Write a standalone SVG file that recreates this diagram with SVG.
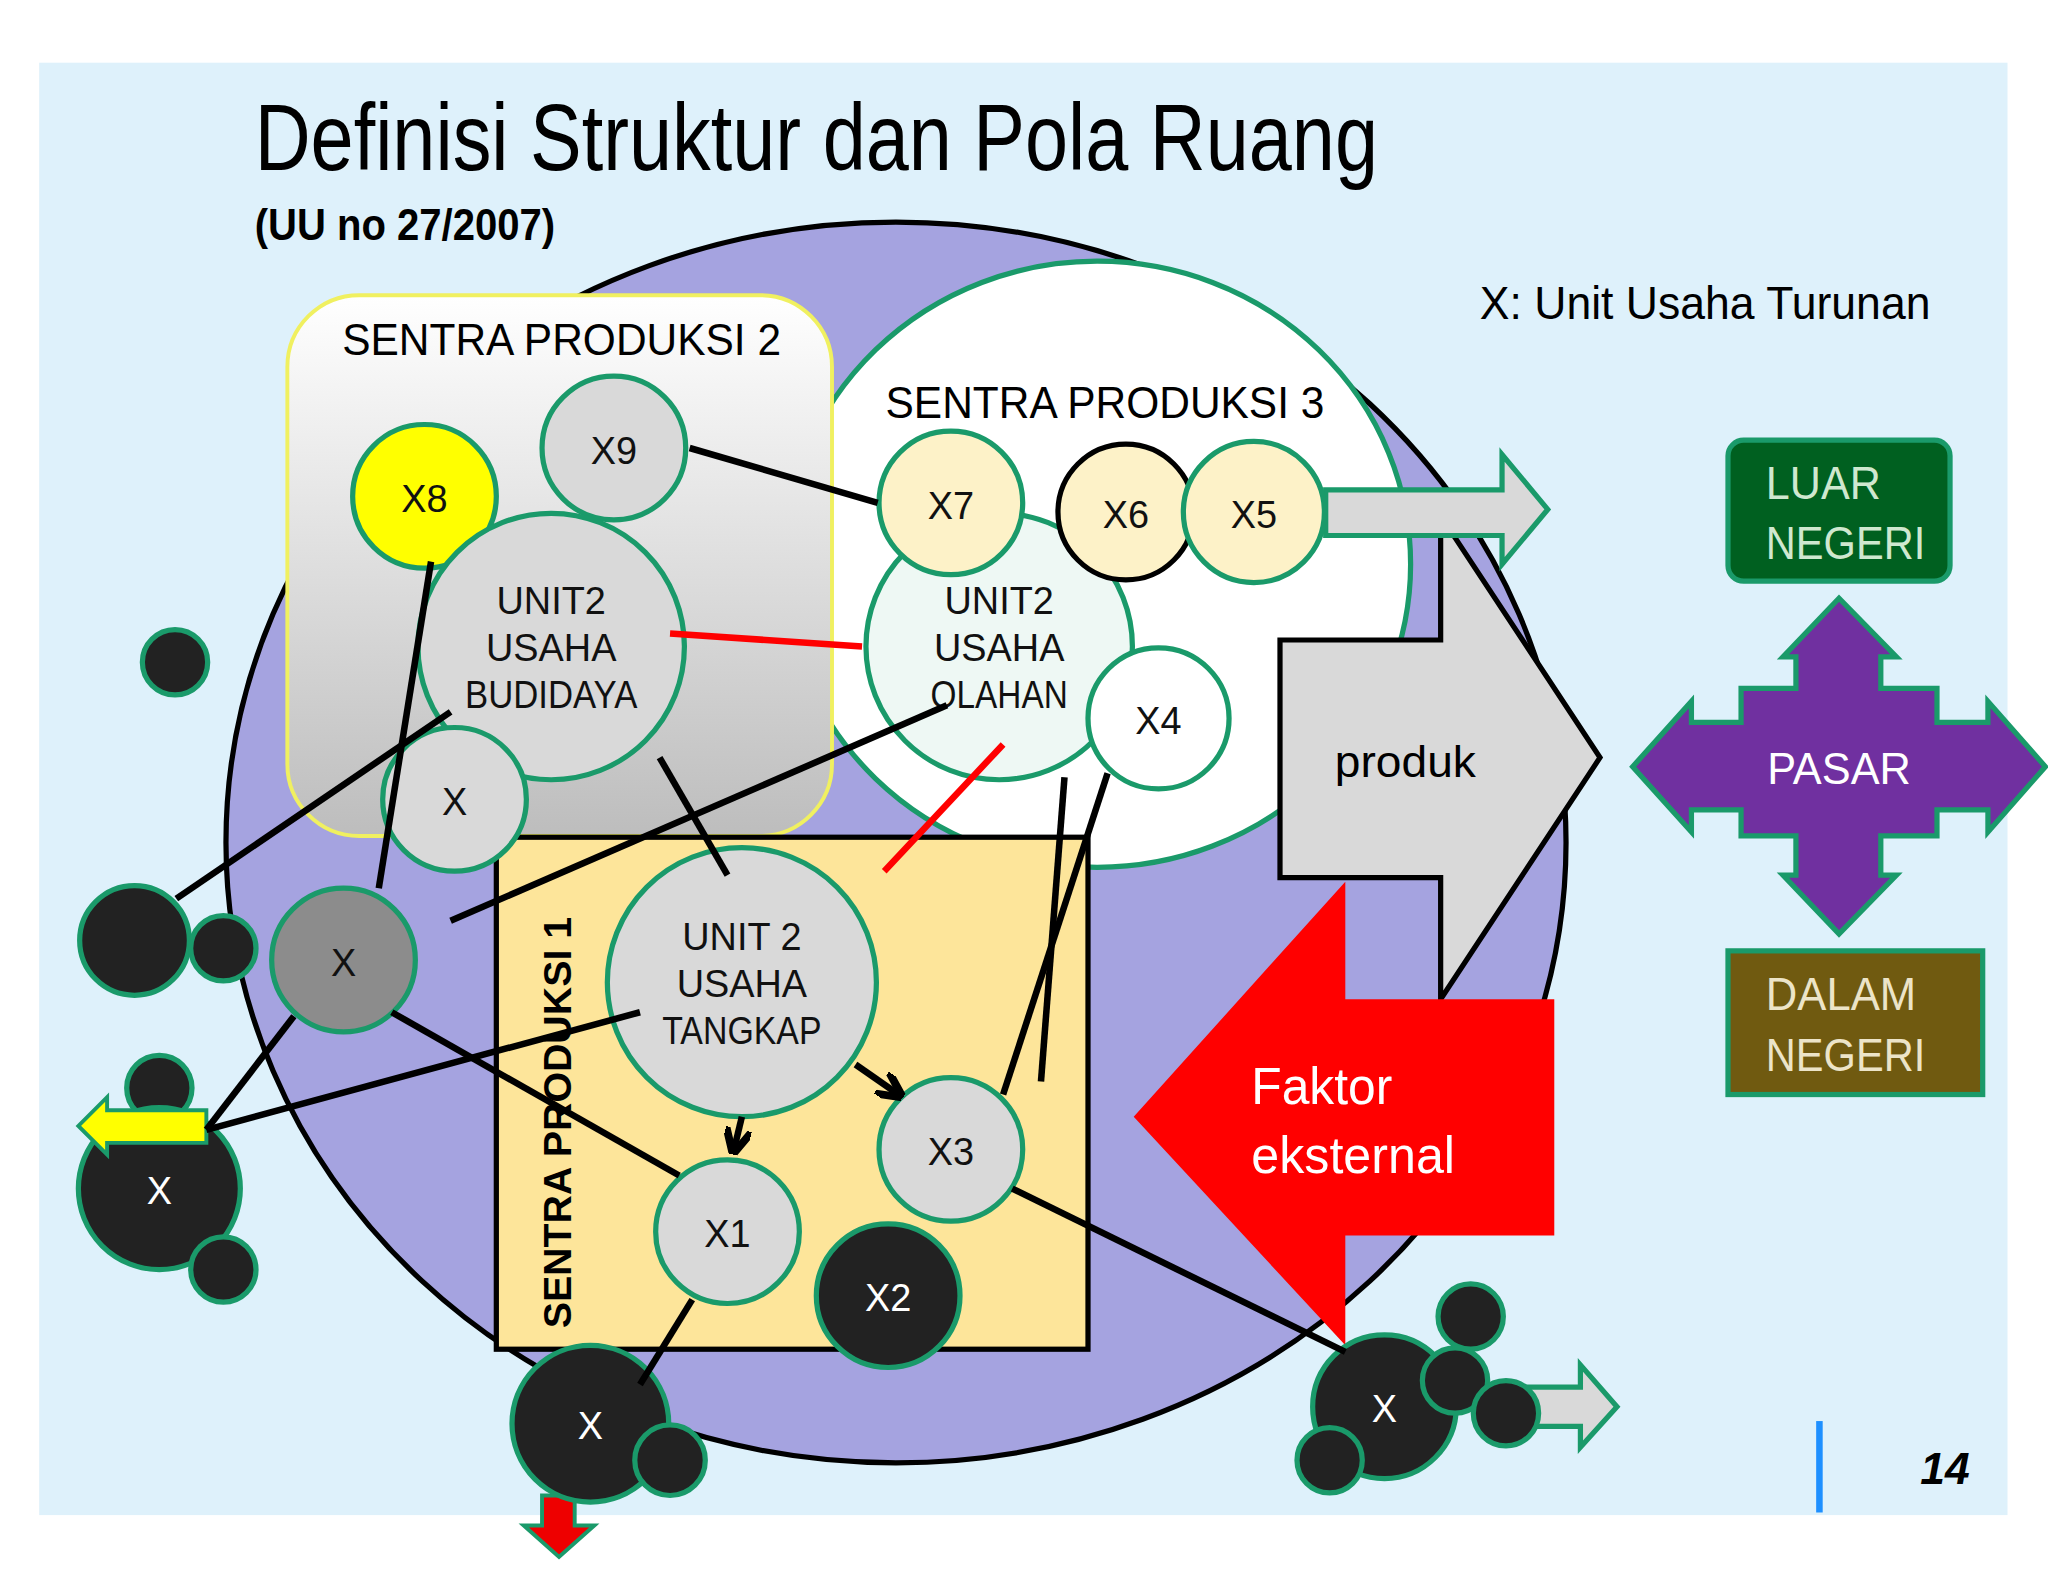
<svg xmlns="http://www.w3.org/2000/svg" width="2048" height="1582" viewBox="0 0 2048 1582">
<defs>
<style>
.t{font-family:"Liberation Sans",Arial,sans-serif}
.n{fill:#d9d9d9;stroke:#1a9a6a;stroke-width:4}
.d{fill:#222;stroke:#1a9a6a;stroke-width:4}
.l{stroke:#000;stroke-width:5;fill:none}
.r{stroke:#f00;stroke-width:5;fill:none}
.lb{font-family:"Liberation Sans",Arial,sans-serif;font-size:29px;text-anchor:middle;fill:#111}
</style>
<linearGradient id="g2" x1="0" y1="0" x2="0" y2="1"><stop offset="0" stop-color="#ffffff"/><stop offset="1" stop-color="#bdbdbd"/></linearGradient>
<marker id="ah" viewBox="0 0 10 10" refX="8" refY="5" markerWidth="4" markerHeight="4" orient="auto"><path d="M0,0 L10,5 L0,10" fill="none" stroke="#000" stroke-width="3"/></marker>
</defs>
<rect width="2048" height="1582" fill="#fff"/>
<g transform="scale(1.30612)">
<rect x="30" y="48" width="1507" height="1112" fill="#def1fb"/>
<g id="title" class="t">
<text x="195" y="130" font-size="72" textLength="860" lengthAdjust="spacingAndGlyphs">Definisi Struktur dan Pola Ruang</text>
<text x="195" y="184" font-size="34" font-weight="bold" textLength="230" lengthAdjust="spacingAndGlyphs">(UU no 27/2007)</text>
<text x="1133" y="244" font-size="36" textLength="345" lengthAdjust="spacingAndGlyphs">X: Unit Usaha Turunan</text>
</g>
<ellipse id="ruang" cx="686" cy="645" rx="513" ry="475" fill="#a5a3e0" stroke="#000" stroke-width="4"/>
<g id="sentra3"><ellipse cx="840" cy="432" rx="240" ry="232" fill="#fff" stroke="#1a9a6a" stroke-width="4"/>
<text class="t" x="678" y="320" font-size="34" textLength="336" lengthAdjust="spacingAndGlyphs">SENTRA PRODUKSI 3</text></g>
<g id="sentra2"><rect x="220" y="226" width="417" height="414" rx="55" fill="url(#g2)" stroke="#f0f060" stroke-width="3"/>
<text class="t" x="262" y="272" font-size="34" textLength="336" lengthAdjust="spacingAndGlyphs">SENTRA PRODUKSI 2</text></g>
<g id="sentra1"><rect x="380" y="641" width="453" height="392" fill="#fde59a" stroke="#000" stroke-width="4"/>
<text class="t" transform="translate(437,1017) rotate(-90)" font-size="30" font-weight="bold" textLength="315" lengthAdjust="spacingAndGlyphs">SENTRA PRODUKSI 1</text></g>
<g id="produk"><polygon points="980,490 1103,490 1103,395 1225,580 1103,765 1103,672 980,672" fill="#d9d9d9" stroke="#000" stroke-width="4"/>
<text class="t" x="1022" y="595" font-size="34" textLength="108" lengthAdjust="spacingAndGlyphs">produk</text></g>
<g id="faktor"><polygon points="1190,765 1030,765 1030,675 868,855 1030,1030 1030,946 1190,946" fill="#f00"/>
<text class="t" x="958" y="845" font-size="40" fill="#fff" textLength="108" lengthAdjust="spacingAndGlyphs">Faktor</text>
<text class="t" x="958" y="898" font-size="40" fill="#fff" textLength="156" lengthAdjust="spacingAndGlyphs">eksternal</text></g>
<g id="arrows">
<polygon points="1015,375 1150,375 1150,348 1185,390 1150,432 1150,410 1015,410" fill="#d9d9d9" stroke="#1a9a6a" stroke-width="4"/>
<polygon points="1165,1062 1210,1062 1210,1045 1238,1077 1210,1108 1210,1092 1165,1092" fill="#d9d9d9" stroke="#1a9a6a" stroke-width="4"/>
<polygon points="415,1145 440,1145 440,1168 455,1168 428,1192 401,1168 415,1168" fill="#e00" stroke="#1a9a6a" stroke-width="3"/>
</g>
<g id="dark">
<circle class="d" cx="134" cy="507" r="25"/><circle class="d" cx="103" cy="720" r="42"/><circle class="d" cx="171" cy="726" r="25"/>
<circle class="d" cx="122" cy="833" r="25"/><circle class="d" cx="122" cy="910" r="62"/><circle class="d" cx="171" cy="972" r="25"/>
<circle class="d" cx="452" cy="1090" r="60"/><circle class="d" cx="513" cy="1118" r="27"/>
<circle class="d" cx="1126" cy="1008" r="25"/><circle class="d" cx="1060" cy="1077" r="55"/><circle class="d" cx="1114" cy="1057" r="25"/><circle class="d" cx="1153" cy="1082" r="25"/><circle class="d" cx="1018" cy="1118" r="25"/>
<text class="lb" x="122" y="922" style="fill:#fff">X</text>
<text class="lb" x="452" y="1102" style="fill:#fff">X</text>
<text class="lb" x="1060" y="1089" style="fill:#fff">X</text>
<polygon points="158,850 82,850 82,840 60,862 82,884 82,875 158,875" fill="#ff0" stroke="#1a9a6a" stroke-width="3"/>
</g>
<g id="x9"><circle class="n" cx="470" cy="343" r="55"/><text class="lb" x="470" y="355">X9</text></g>
<g id="x8"><circle class="n" cx="325" cy="380" r="55" style="fill:#ff0"/><text class="lb" x="325" y="392">X8</text></g>
<g id="budidaya"><circle class="n" cx="422" cy="495" r="102"/><text class="lb" x="422" y="470">UNIT2</text><text class="lb" x="422" y="506">USAHA</text><text class="lb" x="422" y="542" textLength="132" lengthAdjust="spacingAndGlyphs">BUDIDAYA</text></g>
<g id="xb"><circle class="n" cx="348" cy="612" r="55"/><text class="lb" x="348" y="624">X</text></g>
<g id="olahan"><circle class="n" cx="765" cy="495" r="102" style="fill:#eef8f4"/><text class="lb" x="765" y="470">UNIT2</text><text class="lb" x="765" y="506">USAHA</text><text class="lb" x="765" y="542" textLength="105" lengthAdjust="spacingAndGlyphs">OLAHAN</text></g>
<g id="x7"><circle class="n" cx="728" cy="385" r="55" style="fill:#fdf2c8"/><text class="lb" x="728" y="397">X7</text></g>
<g id="x6"><circle cx="862" cy="392" r="52" fill="#fdf2c8" stroke="#000" stroke-width="4"/><text class="lb" x="862" y="404">X6</text></g>
<g id="x5"><circle class="n" cx="960" cy="392" r="54" style="fill:#fdf2c8"/><text class="lb" x="960" y="404">X5</text></g>
<g id="x4"><circle class="n" cx="887" cy="550" r="54" style="fill:#fff"/><text class="lb" x="887" y="562">X4</text></g>
<g id="tangkap"><circle class="n" cx="568" cy="752" r="103"/><text class="lb" x="568" y="727">UNIT 2</text><text class="lb" x="568" y="763">USAHA</text><text class="lb" x="568" y="799" textLength="122" lengthAdjust="spacingAndGlyphs">TANGKAP</text></g>
<g id="x3"><circle class="n" cx="728" cy="880" r="55"/><text class="lb" x="728" y="892">X3</text></g>
<g id="x1"><circle class="n" cx="557" cy="943" r="55"/><text class="lb" x="557" y="955">X1</text></g>
<g id="x2"><circle class="d" cx="680" cy="992" r="55"/><text class="lb" x="680" y="1004" style="fill:#fff">X2</text></g>
<g id="xg"><circle class="n" cx="263" cy="735" r="55" style="fill:#8c8c8c"/><text class="lb" x="263" y="747">X</text></g>
<g id="connectors">
<line class="l" x1="528" y1="343" x2="672" y2="385"/>
<line class="l" x1="330" y1="430" x2="290" y2="680"/>
<line class="l" x1="345" y1="545" x2="135" y2="688"/>
<line class="l" x1="345" y1="705" x2="725" y2="540"/>
<line class="r" x1="513" y1="485" x2="660" y2="495"/>
<line class="r" x1="768" y1="570" x2="677" y2="667"/>
<line class="l" x1="505" y1="580" x2="557" y2="670"/>
<line class="l" x1="815" y1="595" x2="797" y2="828"/>
<line class="l" x1="848" y1="592" x2="768" y2="838"/>
<line class="l" x1="300" y1="775" x2="520" y2="900"/>
<line class="l" x1="158" y1="865" x2="490" y2="775"/>
<line class="l" x1="158" y1="865" x2="225" y2="778"/>
<line class="l" x1="775" y1="910" x2="1030" y2="1035"/>
<line class="l" x1="530" y1="995" x2="490" y2="1060"/>
<line class="l" x1="655" y1="815" x2="688" y2="838" marker-end="url(#ah)"/>
<line class="l" x1="568" y1="855" x2="562" y2="880" marker-end="url(#ah)"/>
</g>
<g id="luar"><rect x="1323" y="337" width="170" height="108" rx="12" fill="#006020" stroke="#1a9a6a" stroke-width="4"/>
<text class="t" x="1352" y="382" font-size="36" fill="#cfe8cf" textLength="88" lengthAdjust="spacingAndGlyphs">LUAR</text><text class="t" x="1352" y="428" font-size="36" fill="#cfe8cf" textLength="122" lengthAdjust="spacingAndGlyphs">NEGERI</text></g>
<g id="pasar"><polygon points="1333,527 1375,527 1375,503 1365,503 1408,458 1452,503 1440,503 1440,527 1483,527 1483,553 1522,553 1522,537 1566,587 1522,637 1522,620 1483,620 1483,640 1440,640 1440,670 1452,670 1408,715 1365,670 1375,670 1375,640 1333,640 1333,620 1295,620 1295,637 1250,587 1295,537 1295,553 1333,553" fill="#7030a0" stroke="#1a9a6a" stroke-width="4"/>
<text class="t" x="1408" y="600" font-size="34" fill="#fff" text-anchor="middle" textLength="110" lengthAdjust="spacingAndGlyphs">PASAR</text></g>
<g id="dalam"><rect x="1323" y="728" width="195" height="110" fill="#705a10" stroke="#1a9a6a" stroke-width="4"/>
<text class="t" x="1352" y="773" font-size="36" fill="#ece4c8" textLength="115" lengthAdjust="spacingAndGlyphs">DALAM</text><text class="t" x="1352" y="820" font-size="36" fill="#ece4c8" textLength="122" lengthAdjust="spacingAndGlyphs">NEGERI</text></g>
<line x1="1393" y1="1088" x2="1393" y2="1158" stroke="#1e90ff" stroke-width="5"/>
<text class="t" x="1508" y="1136" font-size="34" font-weight="bold" font-style="italic" text-anchor="end">14</text>
</g>
</svg>
